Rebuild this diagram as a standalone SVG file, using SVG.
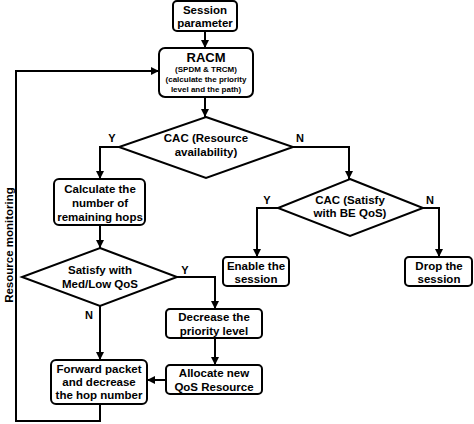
<svg xmlns="http://www.w3.org/2000/svg" width="474" height="424" viewBox="0 0 474 424">
<defs>
<marker id="ah" viewBox="0 0 10 10" refX="10" refY="5" markerWidth="8" markerHeight="8" markerUnits="userSpaceOnUse" orient="auto">
<path d="M0,0 L10,5 L0,10 z" fill="#000"/>
</marker>
<style>
.box{fill:#fff;stroke:#000;stroke-width:2}
.dia{fill:#fff;stroke:#000;stroke-width:2}
.ln{fill:none;stroke:#000;stroke-width:2}
.arr{fill:none;stroke:#000;stroke-width:2;marker-end:url(#ah)}
text{font-family:"Liberation Sans",Arial,sans-serif;font-weight:bold;font-size:11.5px;text-anchor:middle;fill:#000}
.big{font-size:13px}
.sm{font-size:8px}
.lab{font-size:11px}
</style>
</defs>
<rect width="474" height="424" fill="#fff"/>
<g id="connectors">
<line class="arr" x1="205" y1="31" x2="205" y2="48"/>
<line class="arr" x1="205" y1="97" x2="205" y2="117"/>
<polyline class="arr" points="119,147 100,147 100,179"/>
<polyline class="arr" points="293,147 349,147 349,179"/>
<polyline class="arr" points="278,208 257,208 257,257"/>
<polyline class="arr" points="423,208 439,208 439,257"/>
<line class="arr" x1="100" y1="225" x2="100" y2="248"/>
<polyline class="arr" points="177,277 215,277 215,309"/>
<line class="arr" x1="100" y1="306" x2="100" y2="360"/>
<line class="arr" x1="215" y1="338" x2="215" y2="365"/>
<line class="arr" x1="166" y1="380" x2="147" y2="380"/>
<polyline class="arr" points="100,404 100,421 16,421 16,71 159,71"/>
<text class="lab" x="112" y="142">Y</text>
<text class="lab" x="300" y="142">N</text>
<text class="lab" x="267" y="204">Y</text>
<text class="lab" x="430" y="204">N</text>
<text class="lab" x="185" y="274">Y</text>
<text class="lab" x="89" y="319">N</text>
<text transform="translate(12.5,245) rotate(-90)">Resource monitoring</text>
</g>
<g id="session">
<rect class="box" x="173" y="1" width="64" height="30" rx="4"/>
<text x="205" y="14">Session</text>
<text x="205" y="27">parameter</text>
</g>
<g id="racm">
<rect class="box" x="159" y="48" width="94" height="49" rx="6"/>
<text class="big" x="206" y="62">RACM</text>
<text class="sm" x="206" y="72">(SPDM &amp; TRCM)</text>
<text class="sm" x="206" y="82">(calculate the priority</text>
<text class="sm" x="206" y="92">level and the path)</text>
</g>
<g id="cac1">
<polygon class="dia" points="206,117 293,147 206,178 119,147"/>
<text x="206" y="142">CAC (Resource</text>
<text x="206" y="156">availability)</text>
</g>
<g id="calc">
<rect class="box" x="54" y="179" width="91" height="46" rx="5"/>
<text x="100" y="193">Calculate the</text>
<text x="100" y="207">number of</text>
<text x="100" y="221">remaining hops</text>
</g>
<g id="cac2">
<polygon class="dia" points="350,179 423,208 350,236 278,208"/>
<text x="350" y="204">CAC (Satisfy</text>
<text x="350" y="217">with BE QoS)</text>
</g>
<g id="enable">
<rect class="box" x="223" y="257" width="66" height="29" rx="4"/>
<text x="256" y="270">Enable the</text>
<text x="256" y="283">session</text>
</g>
<g id="drop">
<rect class="box" x="405" y="257" width="67" height="29" rx="4"/>
<text x="439" y="270">Drop the</text>
<text x="439" y="283">session</text>
</g>
<g id="satisfy">
<polygon class="dia" points="100,248 177,277 100,306 22,277"/>
<text x="100" y="274">Satisfy with</text>
<text x="100" y="288">Med/Low QoS</text>
</g>
<g id="decrease">
<rect class="box" x="166" y="309" width="96" height="29" rx="4"/>
<text x="214" y="321">Decrease the</text>
<text x="214" y="335">priority level</text>
</g>
<g id="allocate">
<rect class="box" x="166" y="365" width="96" height="29" rx="4"/>
<text x="214" y="377">Allocate new</text>
<text x="214" y="391">QoS Resource</text>
</g>
<g id="forward">
<rect class="box" x="51" y="360" width="96" height="44" rx="5"/>
<text x="99" y="373">Forward packet</text>
<text x="99" y="386">and decrease</text>
<text x="99" y="399">the hop number</text>
</g>
</svg>
